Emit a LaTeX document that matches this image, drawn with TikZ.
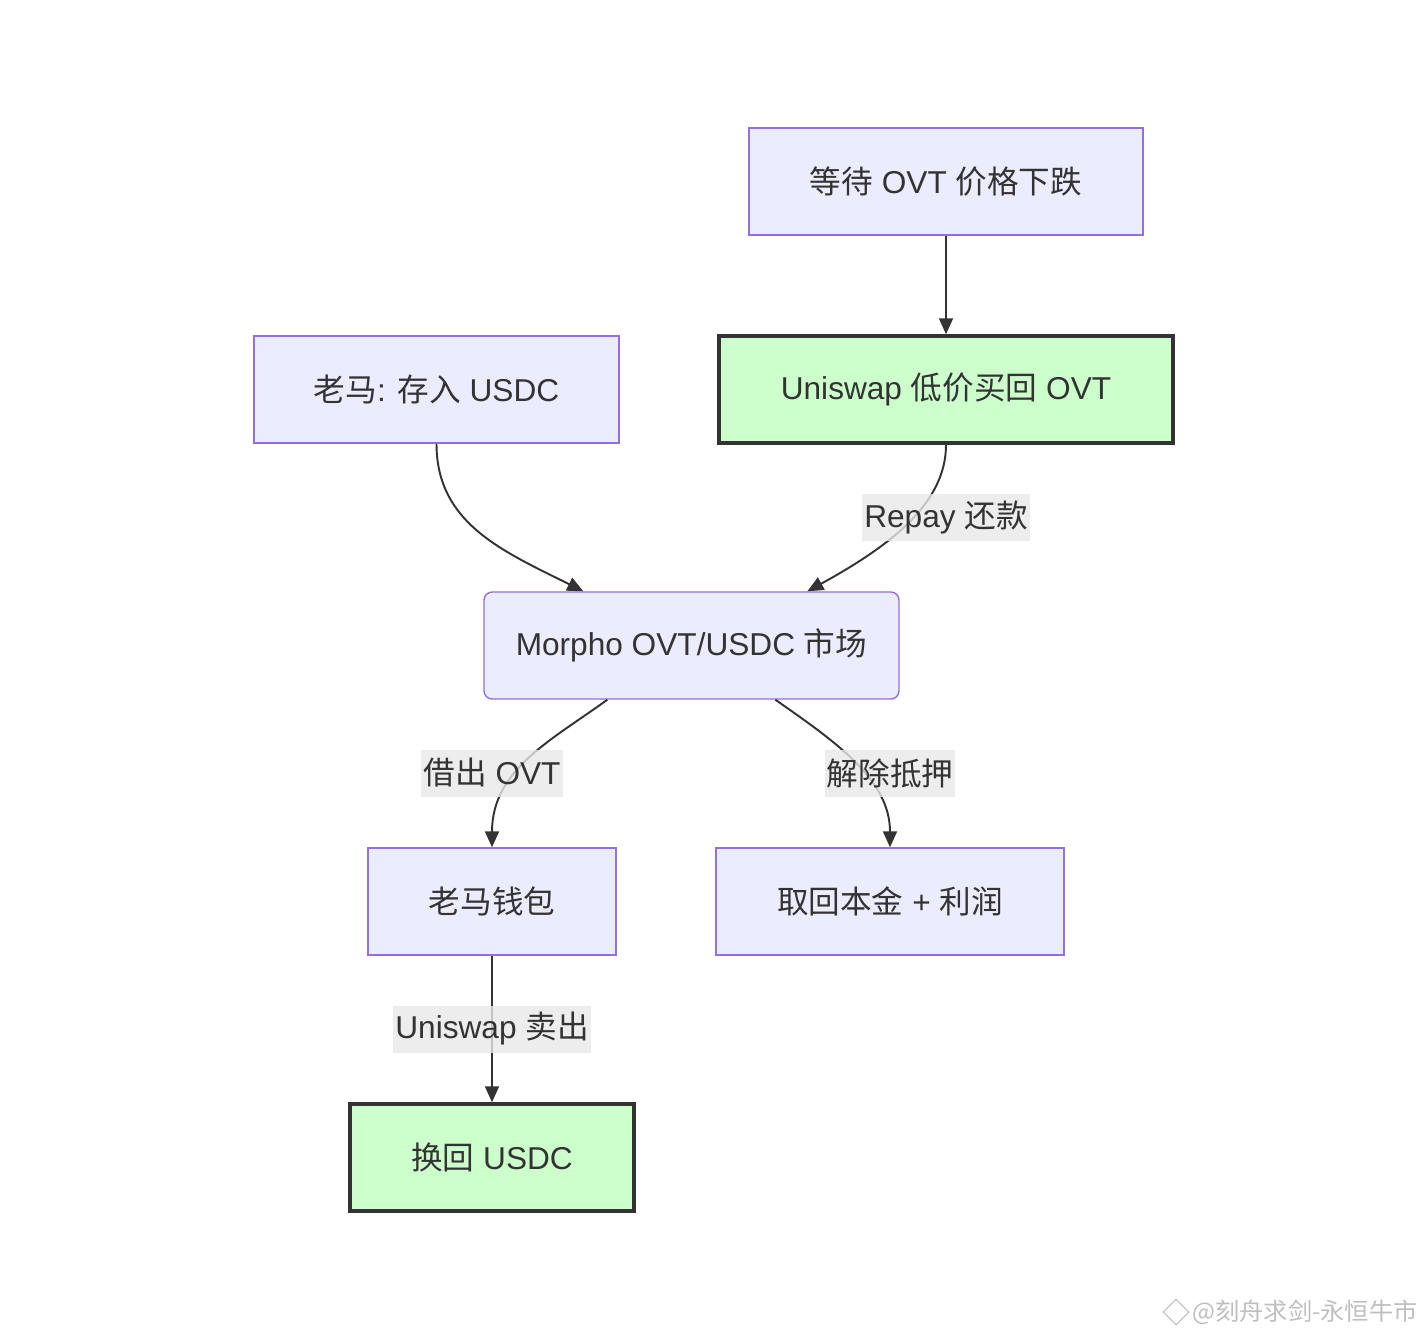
\documentclass[tikz,border=0pt]{standalone}
\usepackage{fontspec}
\setmainfont{Liberation Sans}
\newfontfamily\cjk{Noto Sans CJK SC}
\usetikzlibrary{calc,arrows.meta}
\definecolor{boxfill}{HTML}{ECECFF}
\definecolor{boxline}{HTML}{9370DB}
\definecolor{donefill}{HTML}{CCFFCC}
\definecolor{ink}{HTML}{333333}
\definecolor{tagfill}{HTML}{E8E8E8}
\tikzset{
  stepbox/.style={rectangle,draw=boxline,fill=boxfill,line width=0.8pt,minimum height=2.14cm,inner sep=0pt,text=ink,font=\fontsize{18}{22}\selectfont},
  donebox/.style={stepbox,draw=ink,fill=donefill,line width=2pt},
  hubbox/.style={stepbox,rounded corners=0.16cm},
  % edge with filled tip; curved ones end at offsets along the market box
  flow/.style={-{Triangle[length=0.32cm,width=0.28cm]},line width=1.1pt,draw=ink},
  tag/.style={fill=tagfill,fill opacity=0.8,text opacity=1,text=ink,inner xsep=0.04cm,inner ysep=0pt,minimum height=0.94cm,font=\fontsize{18}{22}\selectfont},
  wmark/.style={text=black!25,font=\cjk\fontsize{13.8}{15}\selectfont,inner sep=0pt},
}

\begin{document}
\begin{tikzpicture}[x=0.02cm,y=-0.02cm]
  \useasboundingbox (0,0) rectangle (1427,1339);
  \node[stepbox,minimum width=7.88cm] (wait) at (946,181.5) {{\cjk 等待} OVT {\cjk 价格下跌}};
  \node[donebox,minimum width=9.08cm] (buyback) at (946,389.5) {Uniswap {\cjk 低价买回} OVT};
  \node[stepbox,minimum width=7.30cm] (deposit) at (436.5,389.5) {{\cjk 老马}: {\cjk 存入} USDC};
  \node[hubbox,minimum width=8.30cm] (market) at (691.5,645.5) {Morpho OVT/USDC {\cjk 市场}};
  \node[stepbox,minimum width=4.96cm] (wallet) at (492,901.5) {\cjk 老马钱包};
  \node[stepbox,minimum width=6.96cm] (withdraw) at (890,901.5) {{\cjk 取回本金} + {\cjk 利润}};
  \node[donebox,minimum width=5.68cm] (swapback) at (492,1157.5) {{\cjk 换回} USDC};

  \draw[flow] (wait) -- (buyback);
  \draw[flow] (deposit.south) .. controls ($(deposit.south)+(0,80)$) and ($(market.north west)+(20,-40)$) .. ($(market.north west)+(100,0)$);
  \draw[flow] (buyback.south) .. controls ($(buyback.south)+(0,60)$) and ($(market.north west)+(404,-44)$) .. ($(market.north west)+(324,0)$);
  \draw[flow] ($(market.south west)+(124,0)$) .. controls ($(market.south west)+(69,40)$) and ($(wallet.north)+(0,-78)$) .. (wallet.north);
  \draw[flow] ($(market.south west)+(292,0)$) .. controls ($(market.south west)+(352,42)$) and ($(withdraw.north)+(0,-68)$) .. (withdraw.north);
  \draw[flow] (wallet) -- (swapback);

  \node[tag] (repaytag) at (946,517) {Repay {\cjk 还款}};
  \node[tag] (borrowtag) at (492,773) {{\cjk 借出} OVT};
  \node[tag] (releasetag) at (890,773) {\cjk 解除抵押};
  \node[tag] (selltag) at (492,1029) {Uniswap {\cjk 卖出}};

  \node[wmark,anchor=east] (credit) at (1418,1312) {@刻舟求剑-永恒牛市};
  \node[draw=black!25,line width=0.6pt,rotate=45,minimum size=0.36cm,inner sep=0pt] (logo) at (1176,1312) {};
\end{tikzpicture}
\end{document}
